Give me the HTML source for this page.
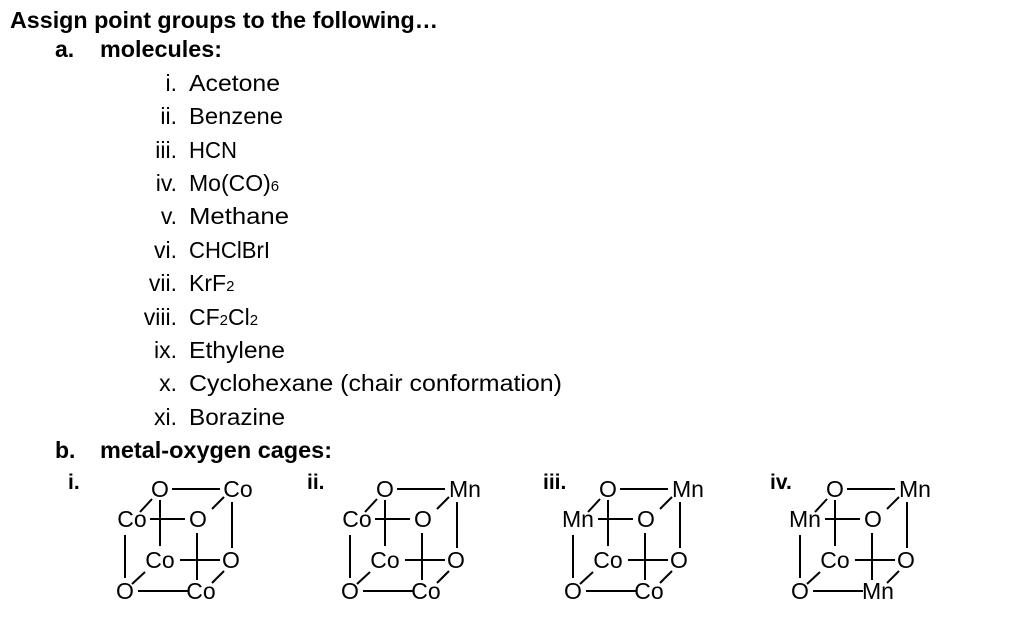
<!DOCTYPE html>
<html><head><style>html,body{margin:0;padding:0;background:#fff}svg{display:block}</style></head>
<body>
<svg width="1024" height="626" viewBox="0 0 1024 626" xmlns="http://www.w3.org/2000/svg">
<g font-family="Liberation Sans, sans-serif" fill="#000" font-size="23">
<text x="10" y="28" font-weight="bold" textLength="428" lengthAdjust="spacingAndGlyphs">Assign point groups to the following…</text>
<text x="55" y="57" font-weight="bold">a.</text>
<text x="100" y="57" font-weight="bold" textLength="122" lengthAdjust="spacingAndGlyphs">molecules:</text>
<g text-anchor="end">
<text x="177" y="91">i.</text><text x="177" y="124">ii.</text><text x="177" y="158">iii.</text><text x="177" y="191">iv.</text><text x="177" y="224">v.</text><text x="177" y="258">vi.</text><text x="177" y="291">vii.</text><text x="177" y="325">viii.</text><text x="177" y="358">ix.</text><text x="177" y="391">x.</text><text x="177" y="425">xi.</text>
</g>
<text x="189" y="91" textLength="91" lengthAdjust="spacingAndGlyphs">Acetone</text>
<text x="189" y="124" textLength="94" lengthAdjust="spacingAndGlyphs">Benzene</text>
<text x="189" y="158" textLength="48" lengthAdjust="spacingAndGlyphs">HCN</text>
<text x="189" y="191">Mo(CO)<tspan font-size="15">6</tspan></text>
<text x="189" y="224" textLength="100" lengthAdjust="spacingAndGlyphs">Methane</text>
<text x="189" y="258" textLength="81" lengthAdjust="spacingAndGlyphs">CHClBrI</text>
<text x="189" y="291">KrF<tspan font-size="15">2</tspan></text>
<text x="189" y="325">CF<tspan font-size="15">2</tspan>Cl<tspan font-size="15">2</tspan></text>
<text x="189" y="358" textLength="96" lengthAdjust="spacingAndGlyphs">Ethylene</text>
<text x="189" y="391" textLength="373" lengthAdjust="spacingAndGlyphs">Cyclohexane (chair conformation)</text>
<text x="189" y="425" textLength="96" lengthAdjust="spacingAndGlyphs">Borazine</text>
<text x="55" y="458" font-weight="bold">b.</text>
<text x="100" y="458" font-weight="bold" textLength="232" lengthAdjust="spacingAndGlyphs">metal-oxygen cages:</text>
<text x="68" y="489" font-weight="bold" font-size="21">i.</text>
<text x="307" y="489" font-weight="bold" font-size="21">ii.</text>
<text x="543" y="489" font-weight="bold" font-size="21">iii.</text>
<text x="770" y="489" font-weight="bold" font-size="21">iv.</text>
</g>
<defs>
<g id="cube" stroke="#000" stroke-width="2" fill="none">
<line x1="172" y1="489" x2="220" y2="489"/>
<line x1="150" y1="519" x2="185" y2="519"/>
<line x1="160" y1="500" x2="160" y2="546"/>
<line x1="232" y1="502" x2="232" y2="548"/>
<line x1="125" y1="535" x2="125" y2="578"/>
<line x1="197" y1="533" x2="197" y2="580"/>
<line x1="180" y1="560" x2="220" y2="560"/>
<line x1="138" y1="591" x2="188" y2="591"/>
<line x1="140" y1="512" x2="152" y2="499"/>
<line x1="212" y1="509" x2="224" y2="497"/>
<line x1="132" y1="584" x2="145" y2="572"/>
<line x1="212" y1="583" x2="224" y2="571"/>
</g>
</defs>
<g font-family="Liberation Sans, sans-serif" font-size="23" text-anchor="middle" fill="#000">
<use href="#cube"/>
<text x="160" y="497">O</text><text x="238" y="497">Co</text><text x="132" y="527">Co</text><text x="198" y="527">O</text>
<text x="160" y="568">Co</text><text x="231" y="568">O</text><text x="125" y="599">O</text><text x="201" y="599">Co</text>
<g transform="translate(225,0)"><use href="#cube"/>
<text x="160" y="497">O</text><text x="240" y="497">Mn</text><text x="132" y="527">Co</text><text x="198" y="527">O</text>
<text x="160" y="568">Co</text><text x="231" y="568">O</text><text x="125" y="599">O</text><text x="201" y="599">Co</text></g>
<g transform="translate(448,0)"><use href="#cube"/>
<text x="160" y="497">O</text><text x="240" y="497">Mn</text><text x="130" y="527">Mn</text><text x="198" y="527">O</text>
<text x="160" y="568">Co</text><text x="231" y="568">O</text><text x="125" y="599">O</text><text x="201" y="599">Co</text></g>
<g transform="translate(675,0)"><use href="#cube"/>
<text x="160" y="497">O</text><text x="240" y="497">Mn</text><text x="130" y="527">Mn</text><text x="198" y="527">O</text>
<text x="160" y="568">Co</text><text x="231" y="568">O</text><text x="125" y="599">O</text><text x="203" y="599">Mn</text></g>
</g>
</svg>
</body></html>
